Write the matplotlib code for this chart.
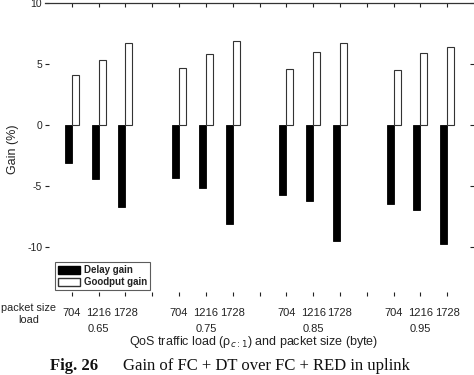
import matplotlib
matplotlib.use("Agg")
import matplotlib.pyplot as plt
from matplotlib.patches import Patch
import numpy as np

loads = ["0.65", "0.75", "0.85", "0.95"]
packet_sizes = ["704", "1216", "1728"]
delay_gain = [-3.1, -4.4, -6.7,
              -4.3, -5.2, -8.1,
              -5.7, -6.2, -9.5,
              -6.5, -7.0, -9.75]
goodput_gain = [4.1, 5.3, 6.7,
                4.7, 5.8, 6.9,
                4.6, 6.0, 6.7,
                4.5, 5.9, 6.4]

plt.rcParams['font.family'] = ['Liberation Sans', 'DejaVu Sans']
txt = '#222222'

fig = plt.figure(figsize=(4.74, 3.75), dpi=100)
ax = fig.add_axes([0.095, 0.211, 0.905, 0.781])

pos = []
for g in range(len(loads)):
    for k in range(len(packet_sizes)):
        pos.append(1 + g * 4 + k)
pos = np.array(pos, dtype=float)

w = 0.26
ax.bar(pos - w / 2, delay_gain, width=w, color='black', edgecolor='black', linewidth=0.6)
ax.bar(pos + w / 2, goodput_gain, width=w, color='white', edgecolor='#333333', linewidth=0.8)

ax.set_xlim(0, 16)
ax.set_ylim(-14, 10)

for s in ['left', 'right', 'bottom']:
    ax.spines[s].set_visible(False)
ax.spines['top'].set_color('#333333')
ax.spines['top'].set_linewidth(0.9)

ax.set_yticks([-10, -5, 0, 5, 10])
ax.set_yticklabels(['-10', '-5', '0', '5', '10'])
ax.tick_params(axis='y', direction='in', length=3, left=True, right=True,
               labelsize=7.5, colors=txt, pad=2)

all_ticks = list(range(1, 16))
labels = []
for t in all_ticks:
    if t in pos:
        labels.append(packet_sizes[int((t - 1) % 4)])
    else:
        labels.append('')
ax.set_xticks(all_ticks)
ax.set_xticklabels(labels)
ax.tick_params(axis='x', direction='in', length=3, top=True, bottom=True,
               labelsize=8, colors=txt, pad=9)

trans = ax.get_xaxis_transform()
for g, ld in enumerate(loads):
    ax.text(2 + g * 4, -0.095, ld, transform=trans, ha='center', va='top',
            fontsize=8, color=txt)
fig.text(0.002, 1 - 308 / 375, 'packet size', ha='left', va='center', fontsize=7.8, color=txt)
fig.text(0.06, 1 - 320 / 375, 'load', ha='center', va='center', fontsize=7.8, color=txt)

ax.set_ylabel('Gain (%)', fontsize=9, color=txt, labelpad=6)
fig.text(0.535, 1 - 342 / 375, 'QoS traffic load (ρ$_{c:1}$) and packet size (byte)',
         ha='center', va='center', fontsize=9, color=txt)

fig.text(0.105, 1 - 366 / 375, 'Fig. 26', ha='left', va='center', fontsize=12,
         fontweight='bold', family=['Liberation Serif', 'DejaVu Serif'], color='#111111')
fig.text(0.26, 1 - 366 / 375, 'Gain of FC + DT over FC + RED in uplink', ha='left',
         va='center', fontsize=12, family=['Liberation Serif', 'DejaVu Serif'], color='#111111')

handles = [Patch(facecolor='black', edgecolor='black'),
           Patch(facecolor='white', edgecolor='#333333')]
leg = ax.legend(handles, ['Delay gain', 'Goodput gain'], loc='lower left',
                bbox_to_anchor=(0.023, 0.02), borderaxespad=0, frameon=True, fancybox=False,
                borderpad=0.3, handlelength=2.3, handleheight=0.9, handletextpad=0.4,
                labelspacing=0.2, prop={'weight': 'bold', 'size': 7})
leg.get_frame().set_edgecolor('#333333')
leg.get_frame().set_linewidth(0.8)
for t in leg.get_texts():
    t.set_color(txt)

fig.savefig('out.png', dpi=100)
